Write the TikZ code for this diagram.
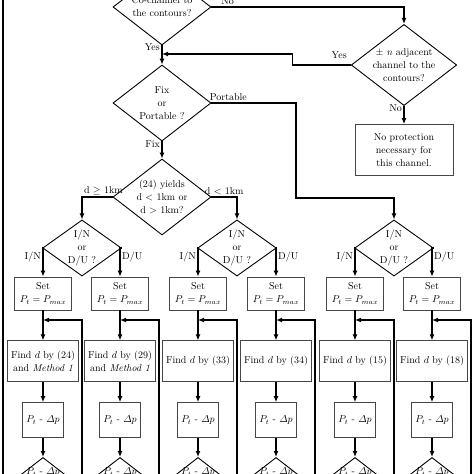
\documentclass[tikz,border=0pt]{standalone}
\usepackage{amsmath}
\usepackage{tikz}
\usetikzlibrary{shapes.geometric, arrows.meta, positioning, calc}
\definecolor{boxgray}{RGB}{70,70,70}
\tikzset{
  decision/.style={diamond, draw=black, line width=0.9pt, aspect=1.3,
    inner sep=0pt, minimum width=98pt, minimum height=76pt, align=center,
    font=\fontsize{10}{13}\selectfont},
  smalldec/.style={decision, aspect=1.4, minimum width=78pt, minimum height=56pt},
  setbox/.style={rectangle, draw=boxgray, line width=0.8pt, minimum width=57pt,
    minimum height=33pt, align=center, inner sep=1pt,
    font=\fontsize{10}{13}\selectfont},
  findbox/.style={setbox, minimum width=71pt, minimum height=41pt},
  pbox/.style={setbox, minimum width=41pt, minimum height=35pt},
  notebox/.style={setbox, text width=88pt, minimum width=98pt, minimum height=51pt},
  lbl/.style={inner sep=1.5pt, font=\fontsize{10}{12}\selectfont},
  arrow/.style={-{Latex[length=6pt,width=5pt]}, line width=1.3pt, color=black},
  line/.style={line width=1.3pt, color=black}
}

\begin{document}
\begin{tikzpicture}[x=1pt, y=-1pt]
  \useasboundingbox (0,0) rectangle (474,474);
  \clip (0,0) rectangle (474,474);

  % questions
  \node[decision] (cochan) at (162,7) {Co-channel to\\the contours?};
  \node[decision] (adj) at (404,65) {$\pm$ \textit{n} adjacent\\channel to the\\contours?};
  \node[decision] (fixq) at (162,103) {Fix\\or\\Portable ?};
  \node[notebox] (noprot) at (404,150) {No protection necessary for this channel.};
  \node[decision] (dist) at (162,197) {(24) yields\\d $<$ 1km or\\d $>$ 1km?};
  \node[smalldec] (mode1) at (82,248) {I/N\\or\\D/U ?};
  \node[smalldec] (mode2) at (237,248) {I/N\\or\\D/U ?};
  \node[smalldec] (mode3) at (394,248) {I/N\\or\\D/U ?};

  \coordinate (joinyes) at (162,54);
  \coordinate (portturn) at (296,198);
  \coordinate (backtop) at (3,-10);
  \coordinate (backbot) at (3,484);

  \draw[arrow] (cochan.south) -- node[lbl, left, pos=0.1] (lyes1) {Yes} (fixq.north);
  \draw[arrow] (cochan.east) -| node[lbl, above right, pos=0.02] (lno1) {No} (adj.north);
  \draw[arrow] (adj.west) -- node[lbl, above=4pt, pos=0.2] (lyes2) {Yes} ++(-58,0) |- (joinyes);
  \draw[arrow] (adj.south) -- node[lbl, left, pos=0.1] (lno2) {No} (noprot.north);
  \draw[arrow] (fixq.east) -| node[lbl, above, pos=0.1] (lport) {Portable} (portturn) -| (mode3.north);
  \draw[arrow] (fixq.south) -- node[lbl, left, pos=0.15] (lfix) {Fix} (dist.north);
  \draw[arrow] (dist.west) -| node[lbl, above, pos=0.15] (lfar) {d $\geq$ 1km} (mode1.north);
  \draw[arrow] (dist.east) -| node[lbl, above, pos=0.25] (lnear) {d $<$ 1km} (mode2.north);
  \draw[line] (backbot) -- (backtop);

  % one chain per case
  \foreach \cx/\i/\txt in {43/1/{Find $d$ by (24)\\and \textit{Method 1}},
      120/2/{Find $d$ by (29)\\and \textit{Method 1}}, 198/3/{Find $d$ by (33)},
      276/4/{Find $d$ by (34)}, 355/5/{Find $d$ by (15)}, 432/6/{Find $d$ by (18)}}{
    \node[setbox] (set\i) at (\cx,293.5) {Set\\$P_t = P_{max}$};
    \node[findbox, below=30pt of set\i] (find\i) {\txt};
    \node[pbox, below=20pt of find\i] (pd\i) {$P_t$ - $\varDelta p$};
    \node[decision, anchor=north] (chk\i) at (\cx,457) {};
    \node[lbl, anchor=north] (chkt\i) at ($(chk\i.north)+(0,9)$) {$P_t$ - $\varDelta p$};
    \coordinate (join\i) at (\cx,320);
    \coordinate (ret\i) at (\cx+39,484);
    \draw[arrow] (set\i) -- (find\i);
    \draw[arrow] (find\i) -- (pd\i);
    \draw[arrow] (pd\i) -- (chk\i);
    \draw[arrow] (ret\i) |- (join\i);
  }

  \foreach \m/\l/\r in {1/1/2, 2/3/4, 3/5/6}{
    \draw[arrow] (mode\m.west) -| node[lbl, left, pos=0.65] (lin\m) {I/N} (set\l.north);
    \draw[arrow] (mode\m.east) -| node[lbl, right, pos=0.65] (ldu\m) {D/U} (set\r.north);
  }
\end{tikzpicture}
\end{document}
